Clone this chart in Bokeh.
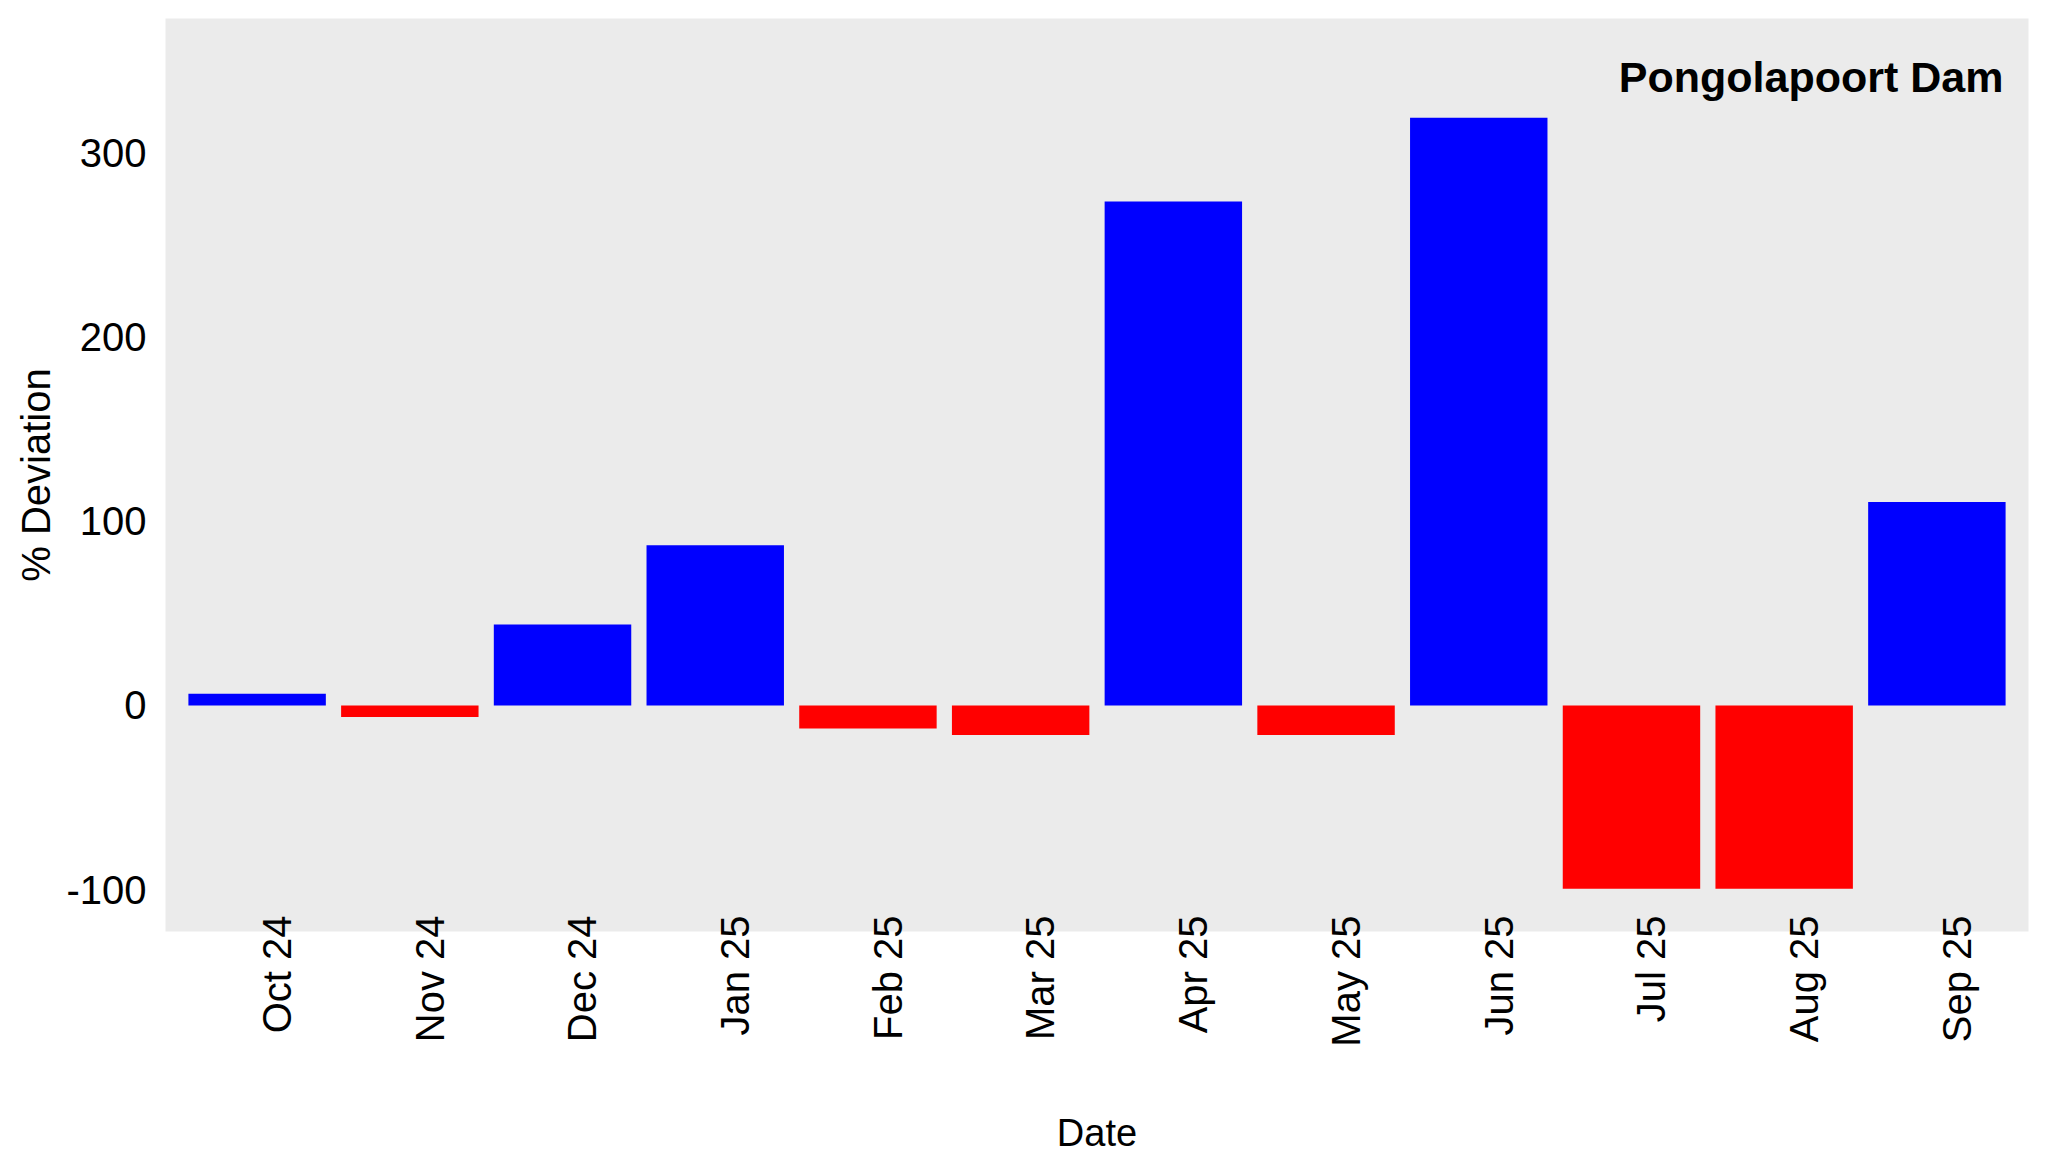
import math
from bokeh.plotting import figure
from bokeh.models import (ColumnDataSource, Range1d, FixedTicker,
                          Label, CustomJSTickFormatter)
from bokeh.embed import file_html
from bokeh.resources import INLINE

# ---- data ----
months = ["Oct 24", "Nov 24", "Dec 24", "Jan 25", "Feb 25", "Mar 25",
          "Apr 25", "May 25", "Jun 25", "Jul 25", "Aug 25", "Sep 25"]
deviation = [6.3, -6.3, 44.0, 87.0, -12.5, -16.0,
             273.6, -16.0, 319.0, -99.5, -99.5, 110.5]
y_ticks = [-100, 0, 100, 200, 300]
title_text = "Pongolapoort Dam"
x_title = "Date"
y_title = "% Deviation"

n = len(months)
idx = list(range(n))
colors = ["#0000FF" if v >= 0 else "#FF0000" for v in deviation]
src = ColumnDataSource(dict(x=idx, month=months, dev=deviation, color=colors))

FONT = "Liberation Sans"
label_shift = 0.13  # tick labels sit slightly right of bar centres

p = figure(
    width=2048, height=1171,
    x_range=Range1d(-0.6, n - 1 + 0.6),
    y_range=Range1d(-122.7, 372.9),
    output_backend="svg", toolbar_location=None,
    min_border_left=165, min_border_right=20,
    min_border_top=18, min_border_bottom=240,
)
p.background_fill_color = "#EBEBEB"
p.border_fill_color = "white"
p.outline_line_color = None
p.grid.visible = False

p.vbar(x="x", top="dev", bottom=0, width=0.9, source=src,
       fill_color="color", line_color=None)

xax = p.xaxis[0]
xax.ticker = FixedTicker(ticks=[i + label_shift for i in idx])
xax.formatter = CustomJSTickFormatter(
    args=dict(labels=months, shift=label_shift),
    code="return labels[Math.round(tick - shift)];")

for ax in (xax, p.yaxis[0]):
    ax.axis_line_color = None
    ax.major_tick_line_color = None
    ax.minor_tick_line_color = None
    ax.major_tick_out = 0
    ax.major_tick_in = 0
    ax.minor_tick_out = 0
    ax.minor_tick_in = 0
    ax.major_label_text_font = FONT
    ax.major_label_text_font_size = "40px"
    ax.major_label_text_color = "black"
    ax.axis_label_text_font = FONT
    ax.axis_label_text_font_size = "40px"
    ax.axis_label_text_font_style = "normal"
    ax.axis_label_text_color = "black"

p.yaxis.ticker = FixedTicker(ticks=y_ticks)
p.yaxis.formatter = CustomJSTickFormatter(code="return tick.toString();")
p.yaxis.major_label_standoff = 19
p.yaxis.axis_label = y_title
p.yaxis.axis_label_standoff = 5

xax.major_label_orientation = math.pi / 2
xax.major_label_standoff = -16
xax.axis_label = x_title
xax.axis_label_text_font_size = "38px"
xax.axis_label_standoff = 62

p.add_layout(Label(x=11.436, y=341.0, text=title_text, text_align="right",
                   text_baseline="alphabetic", text_font=FONT,
                   text_font_size="43px", text_font_style="bold",
                   text_color="black"))

open("out.html", "w").write(file_html(p, INLINE))
